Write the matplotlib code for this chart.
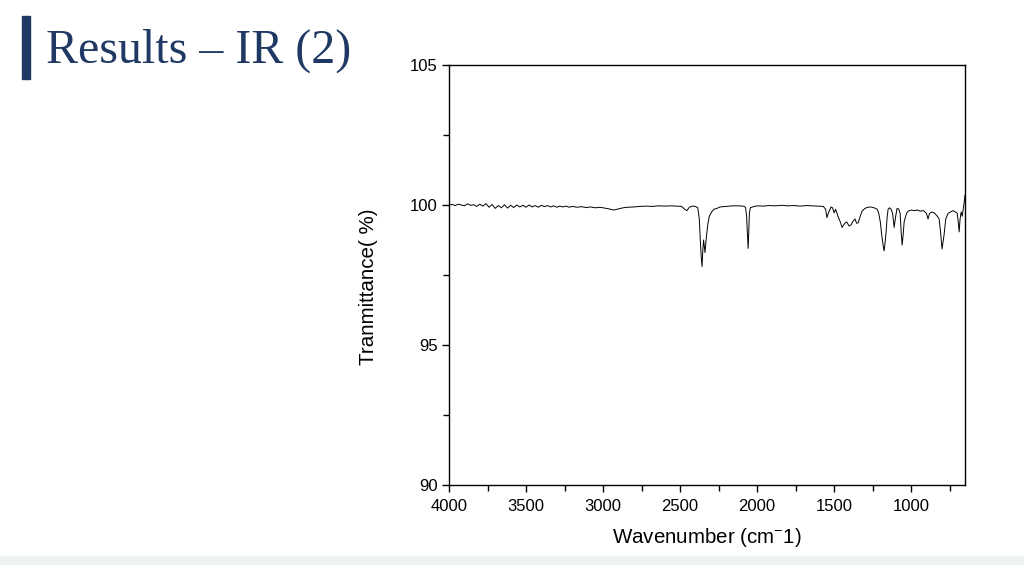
import matplotlib.pyplot as plt
from matplotlib.patches import Rectangle
from matplotlib.ticker import MultipleLocator

plt.rcParams['font.family'] = ['Liberation Sans', 'DejaVu Sans']
plt.rcParams['mathtext.default'] = 'regular'

# IR spectrum (wavenumber in cm-1, transmittance in %)
wavenumber = [
    4000, 3980, 3960, 3940, 3920, 3900, 3880, 3860, 3840, 3820, 3800, 3780, 3760, 3740,
    3720, 3700, 3680, 3660, 3640, 3620, 3600, 3580, 3560, 3540, 3520, 3500, 3480, 3460,
    3440, 3420, 3400, 3380, 3360, 3340, 3320, 3300, 3280, 3260, 3240, 3220, 3200, 3170,
    3140, 3110, 3080, 3050, 3020, 2990, 2960, 2930, 2900, 2870, 2840, 2800, 2760, 2720,
    2680, 2640, 2600, 2560, 2520, 2490, 2470, 2455, 2440, 2420, 2400, 2385, 2375, 2368,
    2362, 2357, 2352, 2347, 2342, 2338, 2330, 2320, 2310, 2295, 2280, 2260, 2240, 2200,
    2160, 2120, 2090, 2075, 2068, 2062, 2058, 2054, 2050, 2044, 2030, 2000, 1960, 1920,
    1880, 1840, 1800, 1760, 1720, 1680, 1640, 1600, 1570, 1555, 1546, 1538, 1520, 1510,
    1500, 1490, 1475, 1460, 1448, 1430, 1417, 1403, 1390, 1377, 1364, 1354, 1344, 1330,
    1318, 1300, 1280, 1260, 1240, 1220, 1210, 1200, 1190, 1180, 1175, 1168, 1162, 1155,
    1149, 1140, 1130, 1120, 1110, 1100, 1091, 1080, 1071, 1064, 1058, 1052, 1045, 1030,
    1019, 1000, 980, 960, 940, 920, 900, 890, 880, 864, 850, 830, 818, 808,
    799, 792, 786, 775, 760, 745, 727, 712, 701, 694, 688, 682, 675, 668,
    662, 655, 650,
]
transmittance = [
    100.00, 100.02, 99.98, 100.03, 100.00, 99.97, 100.04, 99.99, 100.01, 99.95, 100.03, 99.96, 100.05, 99.92,
    100.02, 99.88, 99.98, 99.90, 100.01, 99.89, 99.99, 99.91, 100.00, 99.93, 99.99, 99.92, 100.00, 99.93,
    99.98, 99.92, 99.99, 99.94, 99.98, 99.93, 99.97, 99.92, 99.96, 99.93, 99.96, 99.92, 99.95, 99.92,
    99.94, 99.91, 99.93, 99.90, 99.92, 99.89, 99.86, 99.82, 99.86, 99.90, 99.92, 99.93, 99.95, 99.96,
    99.95, 99.97, 99.96, 99.97, 99.96, 99.95, 99.85, 99.80, 99.92, 99.96, 99.95, 99.90, 99.50, 98.70,
    98.10, 97.80, 98.40, 98.75, 98.50, 98.30, 98.80, 99.30, 99.60, 99.75, 99.85, 99.88, 99.93, 99.95,
    99.97, 99.97, 99.96, 99.92, 99.60, 98.90, 98.45, 99.00, 99.70, 99.90, 99.93, 99.97, 99.96, 99.98,
    99.97, 99.99, 99.97, 99.98, 99.96, 99.98, 99.97, 99.96, 99.95, 99.85, 99.55, 99.70, 99.93, 99.90,
    99.72, 99.85, 99.60, 99.40, 99.20, 99.35, 99.39, 99.25, 99.29, 99.42, 99.50, 99.35, 99.36, 99.60,
    99.78, 99.88, 99.92, 99.93, 99.90, 99.85, 99.70, 99.40, 98.90, 98.50, 98.36, 98.70, 99.05, 99.60,
    99.85, 99.90, 99.85, 99.70, 99.20, 99.60, 99.88, 99.85, 99.70, 99.00, 98.57, 98.90, 99.40, 99.70,
    99.78, 99.82, 99.80, 99.82, 99.78, 99.80, 99.70, 99.50, 99.70, 99.75, 99.72, 99.60, 99.50, 99.00,
    98.43, 98.70, 98.93, 99.50, 99.70, 99.75, 99.80, 99.75, 99.71, 99.40, 99.04, 99.50, 99.75, 99.60,
    99.85, 100.10, 100.35,
]

title_text = 'Results \u2013 IR (2)'
navy = '#1F3864'

fig = plt.figure(figsize=(10.24, 5.65), dpi=100)

# slide decoration: title bar, title, bottom strip
fig.patches.append(Rectangle((22 / 1024, 1 - 79 / 565), 8 / 1024, 63 / 565,
                             transform=fig.transFigure, color=navy))
fig.patches.append(Rectangle((0, 0), 1, 9 / 565, transform=fig.transFigure,
                             color='#EEF2F2'))
fig.text(46 / 1024, 1 - 51 / 565, title_text, fontsize=34.5, color=navy,
         family=['Liberation Serif', 'DejaVu Serif'], va='center', ha='left')

ax = fig.add_axes([449 / 1024, 1 - 485 / 565, 516 / 1024, 420 / 565])
ax.plot(wavenumber, transmittance, color='black', linewidth=0.7)

ax.set_xlim(4000, 650)
ax.set_ylim(90, 105)
ax.xaxis.set_major_locator(MultipleLocator(500))
ax.xaxis.set_minor_locator(MultipleLocator(250))
ax.yaxis.set_major_locator(MultipleLocator(5))
ax.yaxis.set_minor_locator(MultipleLocator(2.5))
ax.tick_params(which='major', length=5, width=1, labelsize=12, pad=3)
ax.tick_params(axis='x', which='major', pad=5)
ax.tick_params(which='minor', length=4, width=1)
for s in ax.spines.values():
    s.set_linewidth(1)

ax.set_xlabel('Wavenumber (cm$^{-}$1)', fontsize=14.8)
ax.set_ylabel('Tranmittance( %)', fontsize=14.8)
ax.xaxis.set_label_coords(0.5, -0.098)
ax.yaxis.set_label_coords(-0.138, 0.471)

fig.savefig('out.png', dpi=100)
